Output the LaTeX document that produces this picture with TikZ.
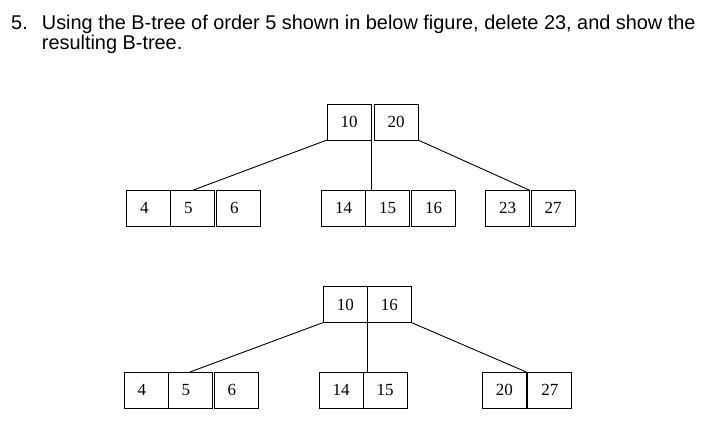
\documentclass[tikz,border=0pt]{standalone}
\usepackage{fontspec}
\setmainfont{Liberation Serif}
\newfontfamily\qfont{Liberation Sans}
\usepackage{tikz}
\usetikzlibrary{positioning}

\tikzset{
  key/.style={draw, rectangle, line width=0.9pt, outer sep=0pt, inner sep=0pt,
    minimum width=44pt, minimum height=36pt, text width=17pt, align=left,
    font=\fontsize{17pt}{17pt}\selectfont},
  link/.style={line width=0.9pt}
}

\begin{document}
\begin{tikzpicture}[x=1pt,y=-1pt]
\useasboundingbox (0,0) rectangle (709,433);

% question
\node[anchor=base west, inner sep=0pt, font=\qfont\fontsize{19.9pt}{20pt}\selectfont] (num) at (11,29.3) {5.};
\node[anchor=base west, inner sep=0pt, font=\qfont\fontsize{19.9pt}{20pt}\selectfont] (qone) at (41.7,29.3) {Using the B-tree of order 5 shown in below figure, delete 23, and show the};
\node[anchor=base west, inner sep=0pt, font=\qfont\fontsize{19.9pt}{20pt}\selectfont] (qtwo) at (41.7,49.3) {resulting B-tree.};

% given tree
\node[key, anchor=west] (t10) at (327,122) {10};
\node[key, right=3pt of t10] (t20) {20};

\node[key, anchor=west] (t4) at (126.7,208.3) {4};
\node[key, right=0pt of t4] (t5) {5};
\node[key, right=2pt of t5] (t6) {6};

\node[key, anchor=west] (t14) at (321.7,208.3) {14};
\node[key, right=0pt of t14] (t15) {15};
\node[key, right=2pt of t15] (t16) {16};

\node[key, anchor=west] (t23) at (485.7,208.3) {23};
\node[key, right=1.5pt of t23] (t27) {27};

\draw[link] (t10.south west) -- (t5.north);
\draw[link] (t10.south east) -- (t10.south east |- t15.north);
\draw[link] (t20.south east) -- (t23.north east);

% after deleting 23
\node[key, anchor=west] (b10) at (323.3,304.5) {10};
\node[key, right=0pt of b10] (b16) {16};

\node[key, anchor=west] (b4) at (124,390) {4};
\node[key, right=0pt of b4] (b5) {5};
\node[key, right=2pt of b5] (b6) {6};

\node[key, anchor=west] (b14) at (319,390) {14};
\node[key, right=0pt of b14] (b15) {15};

\node[key, anchor=west] (b20) at (482.3,390) {20};
\node[key, right=1.5pt of b20] (b27) {27};

\draw[link] (b10.south west) -- (b5.north);
\draw[link] (b10.south east) -- (b10.south east |- b15.north);
\draw[link] (b16.south east) -- (b20.north east);

\end{tikzpicture}
\end{document}
